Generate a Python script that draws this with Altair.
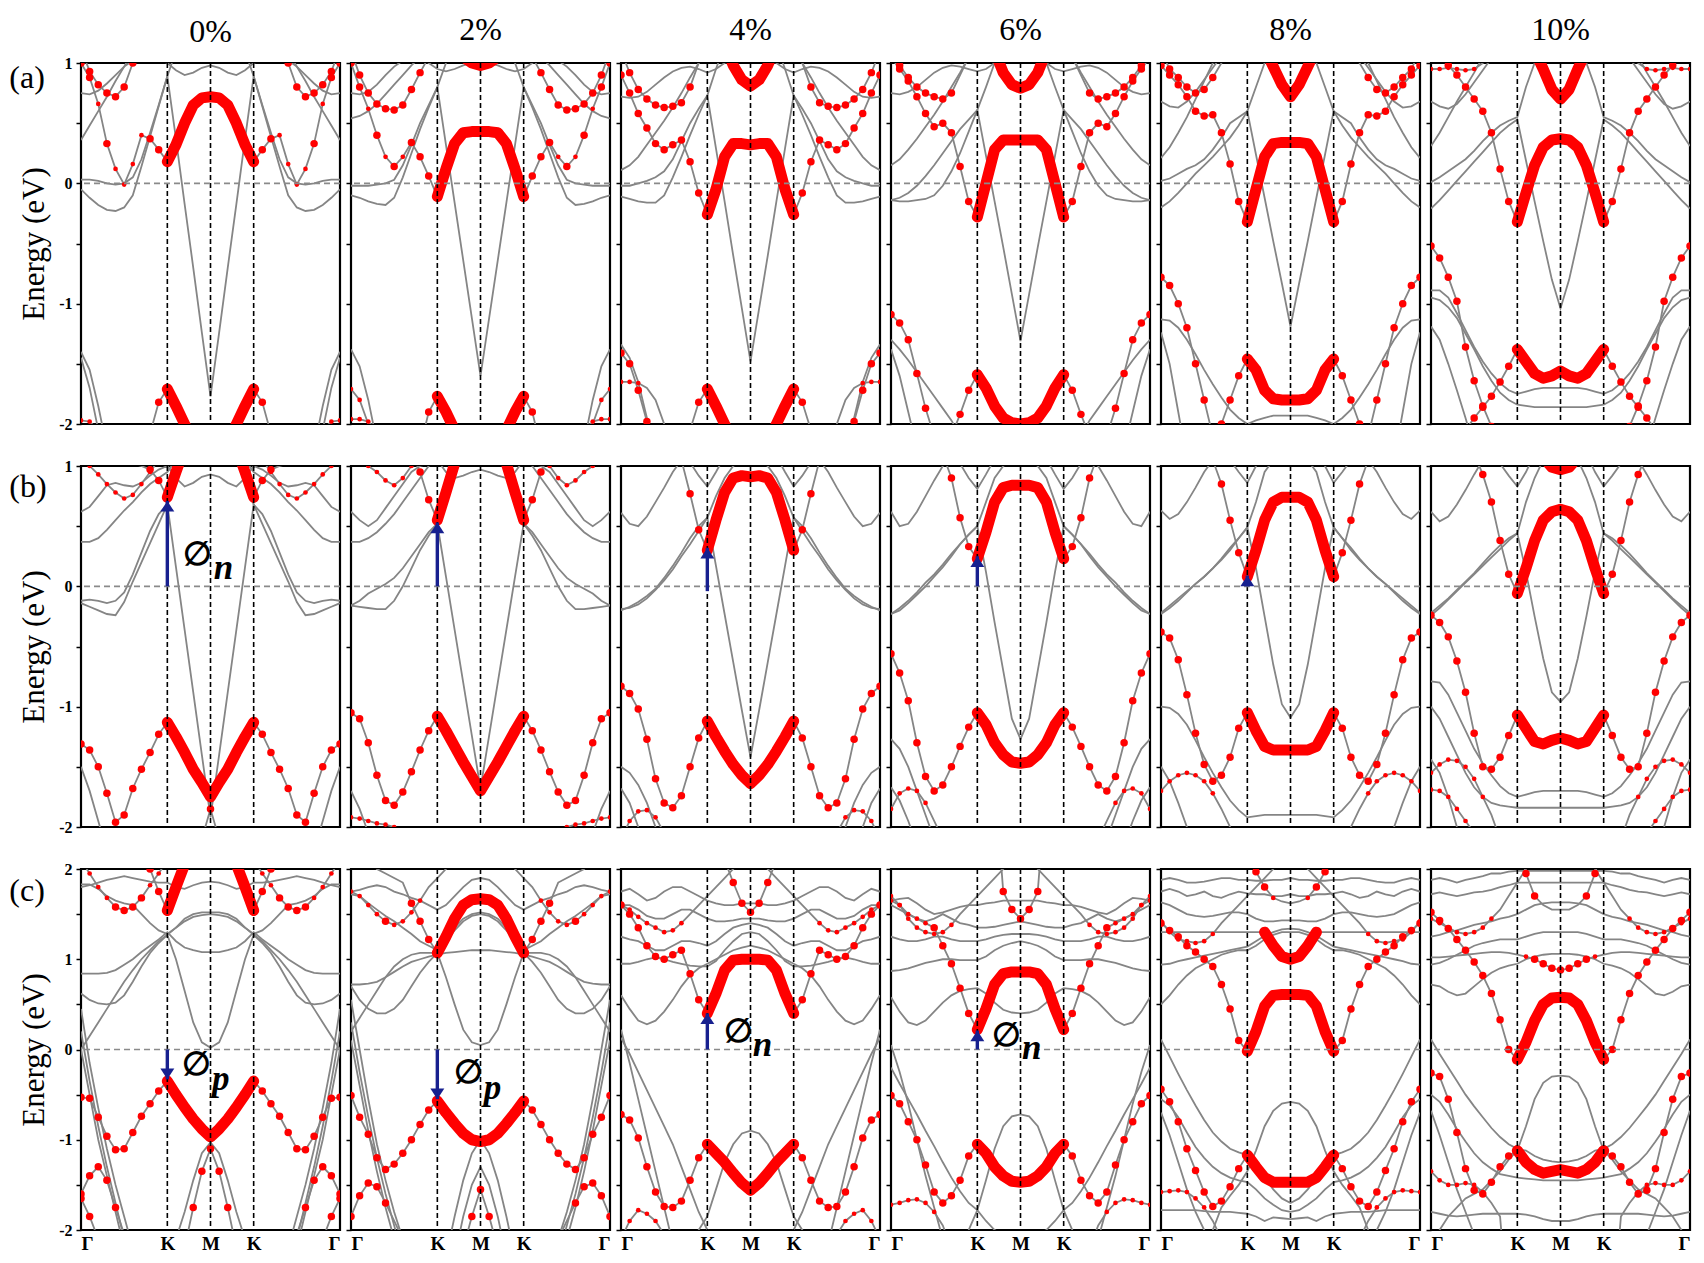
import altair as alt
import pandas as pd

# ---------------- shared labels / axes values ----------------
XH = [0.0, 0.1, 0.2, 0.3, 0.4, 0.5, 0.6, 0.7, 0.8, 0.9, 1.0, 1.1, 1.2, 1.3, 1.4, 1.5]  # Γ -> K -> M (half path)
K_LINES = [1.0, 1.5, 2.0]
X_TICKS = [0, 1, 1.5, 2, 3]
STRAINS = ["0%", "2%", "4%", "6%", "8%", "10%"]
ROW_TAGS = ["(a)", "(b)", "(c)"]
ROW_TAG_E = [0.875, 0.825, 1.76]
Y_DOMAINS = [[-2, 1], [-2, 1], [-2, 2]]
Y_TICKS = [[-2, -1.5, -1, -0.5, 0, 0.5, 1], [-2, -1.5, -1, -0.5, 0, 0.5, 1],
           [-2, -1.5, -1, -0.5, 0, 0.5, 1, 1.5, 2]]
G = "0000000000000000"
O = -3.0   # below the window
U = 3.0    # above the window

# band = (16 energies on XH, 16 weights: 0 none, 1 small dot, 2 dot, 3 thick)
# ---------------- row (a) ----------------
a00 = [
    ([1.0, 0.88, 0.66, 0.33, 0.12, -0.01, 0.16, 0.4, 0.37, 0.28, 0.18, 0.32, 0.5, 0.65, 0.71, 0.72], "2212111122333333"),
    ([1.12, 0.93, 0.82, 0.75, 0.72, 0.8, 1.0, 1.15, 1.3, 1.4, 1.5, 1.6, 1.6, 1.6, 1.6, 1.6], "2222222000000000"),
    ([-0.05, -0.12, -0.18, -0.22, -0.23, -0.2, -0.1, 0.14, 0.39, 0.64, 0.89, 0.37, -0.17, -0.7, -1.24, -1.77], G),
    ([0.03, 0.03, 0.02, 0.0, -0.01, 0.0, 0.05, 0.2, 0.42, 0.65, 0.89, 1.1, 1.3, 1.5, 1.6, 1.65], G),
    ([0.36, 0.48, 0.6, 0.72, 0.85, 0.97, 1.1, 1.2, 1.3, 1.3, 1.3, 1.3, 1.3, 1.3, 1.3, 1.3], G),
    ([0.75, 0.74, 0.77, 0.83, 0.9, 0.97, 1.02, 1.05, 1.05, 1.03, 1.0, 0.94, 0.9, 0.92, 0.96, 0.98], G),
    ([O, O, O, O, O, -2.8, -2.6, -2.3, -2.08, -1.82, -1.71, -1.85, -2.0, -2.15, -2.3, -2.4], "0000000022333333"),
    ([-1.4, -1.55, -1.85, -2.2, -2.5, -2.8] + [O] * 10, G),
    ([-1.45, -1.7, -2.05, -2.4, -2.8] + [O] * 11, G),
    ([-1.97, -1.98, -2.05, -2.2, -2.5] + [O] * 11, "1100000000000000"),
]
a02 = [
    ([1.0, 0.8, 0.62, 0.4, 0.22, 0.14, 0.22, 0.34, 0.22, 0.06, -0.11, 0.12, 0.33, 0.42, 0.43, 0.43], "2212121222333333"),
    ([1.1, 0.9, 0.75, 0.66, 0.62, 0.61, 0.65, 0.78, 0.92, 1.05, 1.15, 1.3, 1.4, 1.5, 1.5, 1.5], "2222222220000000"),
    ([1.8] * 10 + [1.45, 1.3, 1.15, 1.05, 1.0, 0.98], "0000000000000333"),
    ([-0.1, -0.12, -0.15, -0.17, -0.18, -0.12, 0.05, 0.25, 0.45, 0.63, 0.8, 0.32, -0.16, -0.64, -1.12, -1.6], G),
    ([-0.02, -0.02, -0.02, -0.01, 0.0, 0.03, 0.15, 0.32, 0.5, 0.65, 0.8, 1.0, 1.2, 1.35, 1.45, 1.5], G),
    ([0.54, 0.56, 0.6, 0.66, 0.74, 0.82, 0.9, 0.98, 1.05, 1.1, 1.15, 1.2, 1.2, 1.2, 1.2, 1.2], G),
    ([0.75, 0.74, 0.76, 0.82, 0.9, 0.97, 1.02, 1.05, 1.05, 1.0, 0.95, 0.93, 0.95, 0.98, 1.0, 1.02], G),
    ([O] * 6 + [-2.8, -2.5, -2.2, -1.9, -1.77, -1.9, -2.05, -2.2, -2.35, -2.4], "0000000002333333"),
    ([-1.38, -1.52, -1.8, -2.15, -2.5] + [O] * 11, G),
    ([-1.71, -1.8, -2.0, -2.3] + [O] * 12, "1100000000000000"),
    ([-1.96, -1.96, -1.98, -2.05] + [O] * 12, "1110000000000000"),
]
a04 = [
    ([0.9, 0.75, 0.58, 0.46, 0.33, 0.28, 0.32, 0.36, 0.18, -0.08, -0.26, -0.05, 0.22, 0.33, 0.33, 0.32], "2222222222333333"),
    ([1.1, 0.92, 0.78, 0.7, 0.65, 0.63, 0.64, 0.67, 0.8, 1.0, 1.2, 1.4, 1.5, 1.5, 1.5, 1.5], "2222222220000000"),
    ([1.8] * 10 + [1.7, 1.4, 1.15, 0.98, 0.86, 0.81], "0000000000003333"),
    ([-0.11, -0.13, -0.15, -0.16, -0.16, -0.1, 0.05, 0.22, 0.4, 0.57, 0.73, 0.29, -0.15, -0.6, -1.04, -1.48], G),
    ([-0.02, -0.02, 0.0, 0.02, 0.05, 0.1, 0.2, 0.35, 0.5, 0.62, 0.73, 0.95, 1.15, 1.3, 1.4, 1.45], G),
    ([0.11, 0.15, 0.22, 0.32, 0.42, 0.52, 0.63, 0.75, 0.88, 1.0, 1.1, 1.2, 1.3, 1.3, 1.3, 1.3], G),
    ([0.72, 0.71, 0.72, 0.76, 0.82, 0.88, 0.93, 0.96, 0.97, 0.95, 0.92, 0.95, 1.0, 1.05, 1.08, 1.1], G),
    ([O] * 5 + [-2.9, -2.6, -2.3, -2.05, -1.82, -1.71, -1.85, -2.0, -2.15, -2.3, -2.4], "0000000022333333"),
    ([-1.34, -1.45, -1.65, -1.95, -2.25, -2.6] + [O] * 10, G),
    ([-1.41, -1.5, -1.72, -1.98, -2.3, -2.6] + [O] * 10, "2222000000000000"),
    ([-1.65, -1.65, -1.66, -1.7, -1.8, -2.0] + [O] * 10, "1110000000000000"),
]
a06 = [
    ([1.05, 0.95, 0.85, 0.72, 0.58, 0.47, 0.5, 0.42, 0.14, -0.15, -0.28, 0.0, 0.28, 0.36, 0.36, 0.36], "2222222222333333"),
    ([1.1, 0.98, 0.88, 0.8, 0.75, 0.72, 0.7, 0.75, 0.9, 1.05, 1.2, 1.3, 1.3, 1.3, 1.3, 1.3], "2222222200000000"),
    ([1.8] * 10 + [1.6, 1.35, 1.1, 0.92, 0.82, 0.79], "0000000000003333"),
    ([-0.14, -0.12, -0.08, -0.02, 0.06, 0.15, 0.25, 0.35, 0.45, 0.53, 0.61, 0.23, -0.15, -0.53, -0.92, -1.31], G),
    ([-0.14, -0.15, -0.15, -0.14, -0.13, -0.1, -0.02, 0.1, 0.25, 0.43, 0.61, 0.8, 1.0, 1.15, 1.2, 1.2], G),
    ([0.15, 0.2, 0.28, 0.37, 0.47, 0.57, 0.68, 0.8, 0.92, 1.05, 1.15, 1.25, 1.3, 1.3, 1.3, 1.3], G),
    ([0.75, 0.74, 0.76, 0.8, 0.86, 0.92, 0.96, 0.98, 0.97, 0.95, 0.93, 0.95, 1.0, 1.05, 1.1, 1.1], G),
    ([O] * 4 + [-2.8, -2.5, -2.3, -2.1, -1.92, -1.72, -1.59, -1.7, -1.85, -1.95, -1.99, -2.0], "0000000022333333"),
    ([-1.09, -1.16, -1.3, -1.58, -1.87, -2.1, -2.4, -2.7] + [O] * 8, "2222222000000000"),
    ([-1.38, -1.6, -1.9, -2.2, -2.5, -2.8] + [O] * 10, G),
    ([-1.3, -1.38, -1.47, -1.57, -1.67, -1.77, -1.87, -1.97, -2.1, -2.2, -2.3, -2.4, -2.5, -2.6, -2.7, -2.8], G),
]
a08 = [
    ([0.98, 0.9, 0.82, 0.72, 0.6, 0.56, 0.57, 0.42, 0.16, -0.15, -0.32, -0.05, 0.22, 0.33, 0.34, 0.34], "2222222222333333"),
    ([1.1, 0.95, 0.88, 0.8, 0.75, 0.78, 0.88, 1.0, 1.1, 1.2, 1.3, 1.3, 1.3, 1.3, 1.3, 1.3], "2222222000000000"),
    ([1.8] * 10 + [1.6, 1.3, 1.12, 0.97, 0.82, 0.72], "0000000000003333"),
    ([-0.2, -0.15, -0.08, 0.0, 0.08, 0.15, 0.22, 0.3, 0.38, 0.48, 0.6, 0.24, -0.12, -0.48, -0.83, -1.19], G),
    ([0.02, 0.04, 0.08, 0.12, 0.15, 0.2, 0.28, 0.38, 0.5, 0.55, 0.6, 0.8, 1.0, 1.1, 1.15, 1.15], G),
    ([0.21, 0.3, 0.42, 0.55, 0.7, 0.85, 1.0, 1.15, 1.3, 1.3, 1.3, 1.3, 1.3, 1.3, 1.3, 1.3], G),
    ([0.68, 0.64, 0.63, 0.68, 0.76, 0.86, 0.96, 1.06, 1.15, 1.2, 1.2, 1.2, 1.2, 1.2, 1.2, 1.2], G),
    ([O] * 4 + [-2.8, -2.5, -2.2, -2.0, -1.8, -1.6, -1.46, -1.55, -1.72, -1.79, -1.8, -1.8], "0000000222333333"),
    ([-0.78, -0.85, -1.0, -1.2, -1.5, -1.8, -2.1, -2.4, -2.7] + [O] * 7, "2222222000000000"),
    ([-1.13, -1.14, -1.2, -1.3, -1.42, -1.55, -1.67, -1.78, -1.88, -1.95, -2.0, -1.97, -1.95, -1.93, -1.93, -1.93], G),
    ([-1.24, -1.5, -1.9, -2.3, -2.7] + [O] * 11, G),
]
a10 = [
    ([1.1, 1.05, 0.98, 0.9, 0.8, 0.7, 0.6, 0.42, 0.12, -0.15, -0.32, -0.08, 0.15, 0.3, 0.36, 0.37], "1122222222333333"),
    ([1.8] * 10 + [1.6, 1.3, 1.1, 0.95, 0.78, 0.7], "0000000000003333"),
    ([0.95, 0.95, 0.96, 0.95, 0.94, 0.95, 1.0, 1.1, 1.2, 1.3, 1.4, 1.5, 1.5, 1.5, 1.5, 1.5], "1111110000000000"),
    ([-0.21, -0.14, -0.06, 0.02, 0.1, 0.18, 0.26, 0.34, 0.42, 0.48, 0.53, 0.19, -0.15, -0.48, -0.8, -1.04], G),
    ([0.01, 0.05, 0.1, 0.15, 0.2, 0.27, 0.35, 0.42, 0.48, 0.52, 0.55, 0.8, 1.0, 1.15, 1.2, 1.2], G),
    ([0.31, 0.42, 0.55, 0.68, 0.8, 0.92, 1.05, 1.15, 1.2, 1.2, 1.2, 1.2, 1.2, 1.2, 1.2, 1.2], G),
    ([0.68, 0.64, 0.62, 0.66, 0.74, 0.84, 0.94, 1.04, 1.12, 1.18, 1.2, 1.2, 1.2, 1.2, 1.2, 1.2], G),
    ([-2.4, -2.3, -2.2, -2.1, -2.05, -1.95, -1.86, -1.77, -1.65, -1.52, -1.38, -1.48, -1.58, -1.62, -1.6, -1.56], "0000022222333333"),
    ([-0.52, -0.62, -0.78, -0.98, -1.36, -1.64, -1.85, -2.02, -2.2, -2.4] + [O] * 6, "2222222200000000"),
    ([-0.89, -0.89, -0.95, -1.08, -1.22, -1.36, -1.48, -1.58, -1.66, -1.72, -1.75, -1.73, -1.71, -1.7, -1.7, -1.7], G),
    ([-0.95, -0.97, -1.03, -1.12, -1.25, -1.38, -1.52, -1.64, -1.74, -1.8, -1.84, -1.85, -1.86, -1.86, -1.86, -1.86], G),
    ([-1.19, -1.3, -1.5, -1.72, -1.95, -2.2] + [O] * 10, G),
]

# ---------------- row (b) ----------------
b00 = [
    ([1.3, 1.25, 1.2, 1.15, 1.1, 1.05, 1.02, 1.0, 0.97, 0.88, 0.74, 0.95, 1.15, 1.3, 1.4, 1.45], "0000000022333000"),
    ([1.1, 1.0, 0.93, 0.85, 0.78, 0.73, 0.76, 0.85, 0.95, 1.05, 1.15, 1.3, 1.4, 1.4, 1.4, 1.4], "1111111110000000"),
    ([-0.14, -0.17, -0.2, -0.23, -0.24, -0.13, 0.04, 0.2, 0.36, 0.52, 0.68, 0.16, -0.36, -0.88, -1.4, -1.92], G),
    ([-0.12, -0.11, -0.12, -0.14, -0.12, -0.05, 0.1, 0.28, 0.46, 0.6, 0.68, 0.9, 1.1, 1.3, 1.4, 1.45], G),
    ([0.37, 0.37, 0.4, 0.47, 0.55, 0.63, 0.7, 0.78, 0.85, 0.9, 0.95, 1.05, 1.15, 1.2, 1.2, 1.2], G),
    ([0.62, 0.66, 0.75, 0.84, 0.86, 0.84, 0.83, 0.86, 0.92, 0.97, 1.0, 0.9, 0.83, 0.86, 0.91, 0.93], G),
    ([-1.31, -1.36, -1.5, -1.72, -1.96, -1.9, -1.68, -1.52, -1.38, -1.23, -1.13, -1.25, -1.38, -1.52, -1.63, -1.75], "2222222222333333"),
    ([-1.5, -1.7, -1.95, -2.2, -2.5] + [O] * 11, G),
    ([O] * 13 + [-2.4, -2.1, -1.85], "0000000000000222"),
]
b02 = [
    ([1.4, 1.35, 1.3, 1.25, 1.2, 1.15, 1.12, 1.1, 0.95, 0.72, 0.55, 0.78, 1.02, 1.2, 1.3, 1.35], "0000000022333000"),
    ([1.1, 1.05, 1.0, 0.95, 0.88, 0.84, 0.9, 1.0, 1.1, 1.2, 1.3, 1.4, 1.4, 1.4, 1.4, 1.4], "1111111100000000"),
    ([-0.16, -0.17, -0.18, -0.19, -0.19, -0.12, 0.0, 0.15, 0.3, 0.42, 0.52, 0.08, -0.36, -0.8, -1.24, -1.68], G),
    ([-0.16, -0.12, -0.06, -0.02, 0.02, 0.07, 0.15, 0.25, 0.35, 0.45, 0.52, 0.75, 0.95, 1.1, 1.2, 1.25], G),
    ([0.37, 0.37, 0.4, 0.45, 0.52, 0.6, 0.7, 0.8, 0.9, 1.0, 1.1, 1.2, 1.2, 1.2, 1.2, 1.2], G),
    ([0.62, 0.55, 0.5, 0.55, 0.65, 0.75, 0.85, 0.95, 1.0, 1.02, 1.05, 0.95, 0.9, 0.92, 0.95, 0.97], G),
    ([-1.05, -1.1, -1.3, -1.57, -1.78, -1.82, -1.71, -1.54, -1.36, -1.2, -1.08, -1.2, -1.33, -1.46, -1.58, -1.7], "2222222222333333"),
    ([-1.7, -1.85, -2.05, -2.3] + [O] * 12, G),
    ([-1.92, -1.93, -1.95, -1.97, -1.98, -2.0, -2.2] + [O] * 9, "1111110000000000"),
]
b04 = [
    ([1.5, 1.45, 1.4, 1.35, 1.3, 1.25, 1.15, 1.05, 0.77, 0.47, 0.3, 0.55, 0.78, 0.9, 0.92, 0.91], "0000000222333333"),
    ([-0.19, -0.18, -0.15, -0.1, -0.03, 0.05, 0.14, 0.25, 0.35, 0.46, 0.57, 0.17, -0.23, -0.63, -1.03, -1.42], G),
    ([-0.2, -0.17, -0.13, -0.08, -0.02, 0.07, 0.17, 0.28, 0.4, 0.5, 0.57, 0.75, 0.9, 1.0, 1.05, 1.05], G),
    ([0.61, 0.52, 0.5, 0.58, 0.7, 0.82, 0.95, 1.05, 1.1, 1.1, 1.1, 1.1, 1.1, 1.1, 1.1, 1.1], G),
    ([1.3, 1.3, 1.3, 1.3, 1.3, 1.3, 1.25, 1.15, 1.03, 0.92, 0.83, 0.95, 1.08, 1.2, 1.3, 1.3], G),
    ([-0.83, -0.89, -1.02, -1.27, -1.6, -1.8, -1.84, -1.74, -1.5, -1.26, -1.12, -1.25, -1.37, -1.48, -1.57, -1.64], "2222222222333333"),
    ([-1.5, -1.55, -1.65, -1.8, -2.0, -2.2] + [O] * 10, G),
    ([-1.68, -1.8, -2.0, -2.2] + [O] * 12, G),
    ([-2.1, -1.95, -1.87, -1.86, -1.92, -2.05, -2.2] + [O] * 9, "1111110000000000"),
]
b06 = [
    ([1.5, 1.45, 1.4, 1.35, 1.3, 1.2, 1.1, 0.9, 0.57, 0.33, 0.23, 0.45, 0.7, 0.82, 0.84, 0.84], "0000000222333333"),
    ([-0.23, -0.18, -0.12, -0.05, 0.03, 0.1, 0.18, 0.27, 0.35, 0.43, 0.5, 0.12, -0.3, -0.7, -1.1, -1.27], G),
    ([-0.23, -0.2, -0.14, -0.07, 0.0, 0.08, 0.16, 0.25, 0.35, 0.43, 0.5, 0.7, 0.9, 1.0, 1.05, 1.05], G),
    ([0.62, 0.5, 0.52, 0.62, 0.75, 0.88, 1.0, 1.1, 1.1, 1.1, 1.1, 1.1, 1.1, 1.1, 1.1, 1.1], G),
    ([1.3, 1.3, 1.3, 1.3, 1.3, 1.3, 1.25, 1.15, 1.02, 0.9, 0.81, 0.93, 1.06, 1.2, 1.3, 1.3], G),
    ([-0.56, -0.72, -0.95, -1.3, -1.58, -1.7, -1.65, -1.5, -1.33, -1.17, -1.05, -1.15, -1.3, -1.4, -1.46, -1.47], "2222222222333333"),
    ([-1.85, -1.72, -1.68, -1.7, -1.8, -1.95, -2.1] + [O] * 9, "1111100000000000"),
    ([-1.27, -1.35, -1.5, -1.7, -1.9, -2.1] + [O] * 10, G),
    ([-1.67, -1.78, -1.95, -2.15] + [O] * 12, G),
]
b08 = [
    ([1.5, 1.45, 1.4, 1.3, 1.2, 1.12, 1.05, 0.85, 0.55, 0.28, 0.08, 0.3, 0.55, 0.7, 0.74, 0.74], "0000000222333333"),
    ([-0.23, -0.18, -0.12, -0.05, 0.02, 0.08, 0.15, 0.23, 0.32, 0.4, 0.49, 0.15, -0.25, -0.65, -0.98, -1.09], G),
    ([-0.22, -0.16, -0.1, -0.04, 0.02, 0.08, 0.15, 0.22, 0.3, 0.4, 0.49, 0.7, 0.95, 1.05, 1.1, 1.1], G),
    ([0.63, 0.56, 0.6, 0.7, 0.82, 0.95, 1.05, 1.15, 1.2, 1.2, 1.2, 1.2, 1.2, 1.2, 1.2, 1.2], G),
    ([1.3, 1.3, 1.3, 1.3, 1.3, 1.3, 1.3, 1.2, 1.05, 0.95, 0.86, 1.0, 1.15, 1.25, 1.3, 1.3], G),
    ([-0.38, -0.43, -0.61, -0.9, -1.22, -1.48, -1.62, -1.57, -1.42, -1.18, -1.05, -1.2, -1.33, -1.36, -1.36, -1.36], "2222222222333333"),
    ([-1.7, -1.62, -1.57, -1.55, -1.57, -1.62, -1.72, -1.85, -2.0] + [O] * 7, "1111111000000000"),
    ([-1.0, -1.01, -1.06, -1.15, -1.28, -1.42, -1.55, -1.67, -1.78, -1.86, -1.92, -1.91, -1.9, -1.9, -1.9, -1.9], G),
    ([-1.5, -1.62, -1.8, -2.0, -2.2] + [O] * 11, G),
]
b10 = [
    ([1.5, 1.45, 1.4, 1.3, 1.2, 1.1, 0.93, 0.7, 0.38, 0.1, -0.06, 0.15, 0.38, 0.55, 0.62, 0.64], "0000022222333333"),
    ([1.8] * 11 + [1.6, 1.25, 1.07, 0.99, 0.97], "0000000000000333"),
    ([-0.24, -0.18, -0.11, -0.04, 0.03, 0.1, 0.17, 0.24, 0.31, 0.38, 0.44, 0.12, -0.25, -0.6, -0.88, -0.96], G),
    ([-0.22, -0.16, -0.1, -0.03, 0.04, 0.11, 0.19, 0.27, 0.34, 0.4, 0.44, 0.7, 0.9, 1.05, 1.1, 1.1], G),
    ([0.62, 0.54, 0.58, 0.68, 0.8, 0.93, 1.05, 1.15, 1.2, 1.2, 1.2, 1.2, 1.2, 1.2, 1.2, 1.2], G),
    ([1.3, 1.3, 1.3, 1.3, 1.3, 1.3, 1.25, 1.15, 1.02, 0.92, 0.83, 0.95, 1.1, 1.2, 1.3, 1.3], G),
    ([-0.24, -0.3, -0.42, -0.62, -0.88, -1.22, -1.5, -1.52, -1.42, -1.24, -1.07, -1.18, -1.29, -1.31, -1.28, -1.26], "2222222222333333"),
    ([-1.55, -1.48, -1.44, -1.45, -1.5, -1.6, -1.75, -1.9, -2.1] + [O] * 7, "1111111000000000"),
    ([-1.69, -1.7, -1.75, -1.85, -1.95, -2.05, -2.2] + [O] * 9, "1111100000000000"),
    ([-0.79, -0.8, -0.9, -1.05, -1.2, -1.35, -1.47, -1.57, -1.66, -1.72, -1.75, -1.73, -1.71, -1.7, -1.7, -1.7], G),
    ([-1.0, -1.1, -1.25, -1.4, -1.55, -1.67, -1.75, -1.8, -1.82, -1.83, -1.84, -1.84, -1.84, -1.84, -1.84, -1.84], G),
    ([-1.44, -1.55, -1.75, -2.0, -2.2] + [O] * 11, G),
]

# ---------------- row (c) ----------------
c00 = [
    ([-0.53, -0.54, -0.75, -0.96, -1.11, -1.1, -0.92, -0.74, -0.6, -0.46, -0.35, -0.5, -0.64, -0.77, -0.88, -0.97], "2222222222333333"),
    ([U] * 7 + [2.3, 2.0, 1.75, 1.54, 1.8, 2.05, 2.25, 2.4, 2.45], "0000000022333000"),
    ([2.1, 1.95, 1.8, 1.68, 1.58, 1.54, 1.58, 1.68, 1.82, 1.95, 2.1, 2.3, 2.5, 2.5, 2.5, 2.5], "1111222211000000"),
    ([0.62, 0.55, 0.51, 0.5, 0.52, 0.6, 0.75, 0.92, 1.07, 1.18, 1.27, 1.0, 0.65, 0.3, 0.08, 0.02], G),
    ([0.84, 0.84, 0.84, 0.85, 0.88, 0.94, 1.0, 1.08, 1.15, 1.22, 1.3, 1.2, 1.13, 1.1, 1.08, 1.08], G),
    ([0.0, 0.15, 0.3, 0.45, 0.6, 0.75, 0.88, 1.0, 1.1, 1.2, 1.27, 1.35, 1.42, 1.47, 1.49, 1.5], G),
    ([1.83, 1.83, 1.78, 1.7, 1.65, 1.62, 1.6, 1.5, 1.4, 1.32, 1.28, 1.35, 1.45, 1.5, 1.52, 1.52], G),
    ([1.8, 1.82, 1.85, 1.88, 1.9, 1.92, 1.9, 1.88, 1.86, 1.85, 1.85, 1.8, 1.78, 1.82, 1.85, 1.86], G),
    ([0.45, -0.15, -0.65, -1.1, -1.5, -1.85, -2.2, -2.5] + [O] * 8, G),
    ([0.2, -0.35, -0.85, -1.3, -1.7, -2.1, -2.5] + [O] * 9, G),
    ([0.0, -0.5, -1.0, -1.4, -1.8, -2.2] + [O] * 10, G),
    ([O] * 10 + [-2.3, -2.1, -1.8, -1.45, -1.15, -1.03], G),
    ([O] * 11 + [-2.6, -2.2, -1.75, -1.35, -1.1], "0000000000022222"),
    ([-1.6, -1.4, -1.3, -1.45, -1.75, -2.05, -2.4] + [O] * 9, "2222200000000000"),
    ([-1.65, -1.85, -2.1] + [O] * 13, "2200000000000000"),
]
c02 = [
    ([-0.51, -0.75, -0.94, -1.2, -1.33, -1.27, -1.15, -1.0, -0.83, -0.67, -0.57, -0.7, -0.82, -0.93, -1.0, -1.02], "2222222222333333"),
    ([2.3, 2.2, 2.1, 2.0, 1.95, 1.9, 1.85, 1.62, 1.42, 1.22, 1.07, 1.25, 1.45, 1.6, 1.66, 1.67], "0000000222333333"),
    ([1.75, 1.7, 1.6, 1.5, 1.42, 1.38, 1.42, 1.52, 1.65, 1.8, 1.9, 2.0, 2.1, 2.1, 2.1, 2.1], "1111211110000000"),
    ([0.7, 0.55, 0.45, 0.4, 0.4, 0.45, 0.55, 0.7, 0.85, 0.97, 1.07, 0.8, 0.5, 0.22, 0.08, 0.05], G),
    ([0.72, 0.72, 0.73, 0.75, 0.8, 0.86, 0.92, 0.97, 1.0, 1.03, 1.05, 1.07, 1.08, 1.09, 1.1, 1.1], G),
    ([1.72, 1.7, 1.62, 1.55, 1.48, 1.42, 1.35, 1.28, 1.2, 1.15, 1.1, 1.2, 1.32, 1.42, 1.48, 1.5], G),
    ([1.75, 1.77, 1.8, 1.82, 1.8, 1.75, 1.72, 1.68, 1.65, 1.6, 1.55, 1.6, 1.7, 1.8, 1.88, 1.9], G),
    ([0.2, 0.35, 0.5, 0.65, 0.8, 0.92, 1.0, 1.05, 1.07, 1.07, 1.07, 1.2, 1.35, 1.45, 1.5, 1.52], G),
    ([0.55, 0.0, -0.55, -1.05, -1.45, -1.8, -2.1, -2.4] + [O] * 8, G),
    ([0.3, -0.25, -0.75, -1.2, -1.6, -1.95, -2.3] + [O] * 9, G),
    ([0.1, -0.4, -0.9, -1.35, -1.75, -2.1, -2.5] + [O] * 9, G),
    ([O] * 11 + [-2.3, -1.85, -1.45, -1.15, -1.0], G),
    ([O] * 12 + [-2.3, -1.85, -1.5, -1.3], G),
    ([O] * 12 + [-2.6, -2.2, -1.85, -1.55], "0000000000000222"),
    ([-1.85, -1.62, -1.48, -1.52, -1.7, -1.9, -2.1] + [O] * 9, "2222200000000000"),
]
c04 = [
    ([1.6, 1.5, 1.35, 1.15, 1.03, 1.0, 1.05, 1.1, 0.84, 0.55, 0.4, 0.62, 0.88, 0.99, 1.0, 1.0], "2222222222333333"),
    ([1.6, 1.55, 1.47, 1.4, 1.35, 1.3, 1.32, 1.4, 1.5, 1.6, 1.7, 1.8, 1.9, 2.0, 2.1, 2.1], "1111111100000000"),
    ([U] * 12 + [2.1, 1.85, 1.62, 1.52], "0000000000002222"),
    ([-0.72, -0.78, -0.98, -1.3, -1.58, -1.74, -1.75, -1.68, -1.45, -1.2, -1.05, -1.15, -1.25, -1.37, -1.48, -1.56], "2222222222333333"),
    ([-2.1, -1.9, -1.78, -1.82, -1.9, -2.05, -2.3] + [O] * 9, "1111110000000000"),
    ([O] * 8 + [-2.2, -2.0, -1.85, -1.55, -1.25, -1.05, -0.93, -0.9], G),
    ([0.22, -0.15, -0.55, -0.95, -1.35, -1.75, -2.15, -2.5] + [O] * 8, G),
    ([0.13, -0.05, -0.25, -0.45, -0.65, -0.85, -1.05, -1.3, -1.55, -1.8, -2.0, -2.2, -2.4, -2.5, -2.6, -2.6], G),
    ([0.6, 0.45, 0.32, 0.28, 0.32, 0.42, 0.55, 0.7, 0.82, 0.9, 0.95, 1.0, 1.05, 1.1, 1.13, 1.15], G),
    ([0.95, 0.95, 0.97, 1.0, 1.02, 1.0, 0.97, 0.95, 0.93, 0.92, 0.92, 0.98, 1.1, 1.2, 1.28, 1.3], G),
    ([1.75, 1.78, 1.72, 1.65, 1.68, 1.75, 1.8, 1.8, 1.75, 1.7, 1.65, 1.62, 1.6, 1.6, 1.62, 1.62], G),
    ([1.6, 1.6, 1.55, 1.48, 1.45, 1.45, 1.5, 1.55, 1.55, 1.5, 1.45, 1.42, 1.42, 1.43, 1.45, 1.45], G),
    ([1.25, 1.22, 1.2, 1.15, 1.1, 1.1, 1.15, 1.2, 1.2, 1.18, 1.15, 1.2, 1.28, 1.35, 1.38, 1.4], G),
]
c06 = [
    ([1.7, 1.6, 1.5, 1.45, 1.4, 1.35, 1.15, 0.95, 0.68, 0.4, 0.22, 0.45, 0.72, 0.84, 0.86, 0.86], "1111122222333333"),
    ([1.65, 1.6, 1.45, 1.35, 1.3, 1.28, 1.3, 1.38, 1.5, 1.6, 1.7, 1.8, 1.9, 2.0, 2.1, 2.1], "1111111100000000"),
    ([U] * 13 + [1.75, 1.55, 1.45], "0000000000000222"),
    ([-0.51, -0.6, -0.8, -1.0, -1.28, -1.58, -1.7, -1.62, -1.45, -1.18, -1.05, -1.15, -1.3, -1.4, -1.46, -1.47], "2222222222333333"),
    ([-1.72, -1.7, -1.67, -1.66, -1.7, -1.8, -1.95, -2.2] + [O] * 8, "1111110000000000"),
    ([O] * 9 + [-2.0, -1.78, -1.45, -1.1, -0.85, -0.74, -0.72], G),
    ([-0.2, -0.38, -0.55, -0.72, -0.9, -1.07, -1.25, -1.42, -1.57, -1.7, -1.78, -1.9, -2.0, -2.05, -2.1, -2.1], G),
    ([0.05, -0.25, -0.6, -1.0, -1.4, -1.75, -2.1, -2.5] + [O] * 8, G),
    ([0.58, 0.42, 0.3, 0.27, 0.32, 0.42, 0.52, 0.6, 0.65, 0.67, 0.68, 0.62, 0.52, 0.44, 0.41, 0.4], G),
    ([0.87, 0.88, 0.9, 0.93, 0.96, 0.98, 1.0, 1.0, 0.99, 0.99, 0.99, 1.03, 1.1, 1.15, 1.18, 1.2], G),
    ([1.65, 1.67, 1.68, 1.62, 1.55, 1.5, 1.52, 1.55, 1.58, 1.6, 1.6, 1.62, 1.63, 1.65, 1.65, 1.65], G),
    ([1.6, 1.55, 1.5, 1.45, 1.42, 1.45, 1.5, 1.45, 1.4, 1.38, 1.35, 1.35, 1.36, 1.38, 1.4, 1.42], G),
    ([1.25, 1.22, 1.2, 1.2, 1.22, 1.25, 1.25, 1.22, 1.2, 1.2, 1.2, 1.22, 1.25, 1.27, 1.28, 1.28], G),
]
c08 = [
    ([1.4, 1.32, 1.25, 1.15, 1.08, 1.0, 0.92, 0.72, 0.45, 0.1, -0.02, 0.2, 0.48, 0.6, 0.61, 0.61], "2222222222333333"),
    ([1.3] * 12 + [1.3, 1.15, 1.03, 1.0], "0000000000003333"),
    ([-0.44, -0.58, -0.8, -1.1, -1.34, -1.58, -1.74, -1.68, -1.52, -1.32, -1.17, -1.3, -1.42, -1.47, -1.47, -1.47], "2222222222333333"),
    ([-1.58, -1.57, -1.56, -1.58, -1.65, -1.75, -1.9, -2.1] + [O] * 8, "1111110000000000"),
    ([1.42, 1.3, 1.22, 1.2, 1.18, 1.2, 1.28, 1.4, 1.5, 1.6, 1.7, 1.8, 1.9, 2.0, 2.1, 2.1], "1111111000000000"),
    ([U] * 10 + [2.2, 1.97, 1.8, 1.68, 1.64, 1.62], "0000000000022100"),
    ([O] * 5 + [-2.3, -2.0, -1.75, -1.62, -1.5, -1.35, -1.12, -0.85, -0.68, -0.6, -0.58], G),
    ([0.11, -0.08, -0.27, -0.45, -0.62, -0.78, -0.92, -1.02, -1.1, -1.14, -1.17, -1.3, -1.42, -1.55, -1.65, -1.7], G),
    ([-0.55, -0.62, -0.75, -0.92, -1.08, -1.2, -1.3, -1.37, -1.42, -1.45, -1.47, -1.55, -1.65, -1.72, -1.78, -1.8], G),
    ([-0.7, -0.95, -1.25, -1.55, -1.8, -2.0, -2.2] + [O] * 9, G),
    ([-1.78, -1.78, -1.78, -1.78, -1.78, -1.79, -1.8, -1.8, -1.8, -1.81, -1.82, -1.85, -1.9, -1.86, -1.87, -1.88], G),
    ([0.5, 0.6, 0.72, 0.82, 0.9, 0.95, 1.0, 1.05, 1.08, 1.1, 1.1, 1.15, 1.22, 1.27, 1.3, 1.3], G),
    ([0.94, 0.95, 0.98, 1.0, 1.02, 1.04, 1.06, 1.08, 1.1, 1.12, 1.14, 1.2, 1.26, 1.3, 1.33, 1.34], G),
    ([1.63, 1.6, 1.55, 1.5, 1.48, 1.47, 1.48, 1.5, 1.52, 1.52, 1.5, 1.45, 1.42, 1.42, 1.43, 1.43], G),
    ([1.75, 1.78, 1.75, 1.7, 1.72, 1.75, 1.7, 1.68, 1.72, 1.75, 1.73, 1.72, 1.72, 1.7, 1.7, 1.72], G),
    ([1.88, 1.9, 1.88, 1.85, 1.85, 1.86, 1.88, 1.9, 1.9, 1.88, 1.88, 1.87, 1.87, 1.88, 1.88, 1.9], G),
]
c10 = [
    ([1.52, 1.43, 1.34, 1.22, 1.1, 0.97, 0.82, 0.62, 0.33, 0.0, -0.11, 0.08, 0.32, 0.5, 0.57, 0.58], "2222222222333333"),
    ([1.02, 1.02, 1.03, 1.04, 1.05, 1.06, 1.07, 1.08, 1.08, 1.07, 1.05, 1.03, 1.0, 0.95, 0.9, 0.88], "0000000000012222"),
    ([-0.26, -0.3, -0.55, -0.92, -1.32, -1.56, -1.6, -1.47, -1.3, -1.18, -1.12, -1.25, -1.33, -1.37, -1.35, -1.33], "2222222222333333"),
    ([-1.35, -1.45, -1.5, -1.5, -1.48, -1.5, -1.58, -1.7, -1.85] + [O] * 7, "1111111000000000"),
    ([1.45, 1.4, 1.35, 1.3, 1.28, 1.3, 1.35, 1.45, 1.55, 1.7, 1.85, 2.0, 2.1, 2.1, 2.1, 2.1], "1111111100000000"),
    ([U] * 10 + [2.3, 1.95, 1.7, 1.6, 1.55, 1.55], "0000000000022000"),
    ([-2.3, -2.0, -1.85, -1.75, -1.65, -1.6, -1.55, -1.45, -1.35, -1.22, -1.12, -0.85, -0.55, -0.37, -0.3, -0.29], G),
    ([0.11, -0.05, -0.2, -0.35, -0.5, -0.63, -0.75, -0.87, -0.97, -1.05, -1.1, -1.12, -1.18, -1.22, -1.24, -1.25], G),
    ([-0.5, -0.58, -0.72, -0.88, -1.02, -1.15, -1.25, -1.32, -1.38, -1.4, -1.42, -1.43, -1.44, -1.45, -1.45, -1.45], G),
    ([-0.68, -0.95, -1.25, -1.55, -1.8, -2.05, -2.3] + [O] * 9, G),
    ([-1.8, -1.82, -1.84, -1.85, -1.84, -1.83, -1.82, -1.82, -1.82, -1.82, -1.82, -1.83, -1.85, -1.88, -1.9, -1.9], G),
    ([0.72, 0.7, 0.64, 0.6, 0.62, 0.7, 0.78, 0.85, 0.9, 0.93, 0.95, 1.0, 1.03, 1.05, 1.06, 1.06], G),
    ([0.94, 0.96, 1.0, 1.05, 1.1, 1.15, 1.18, 1.2, 1.22, 1.22, 1.22, 1.25, 1.28, 1.3, 1.3, 1.3], G),
    ([1.25, 1.27, 1.3, 1.32, 1.35, 1.38, 1.4, 1.42, 1.45, 1.47, 1.5, 1.55, 1.6, 1.62, 1.63, 1.63], G),
    ([1.72, 1.74, 1.72, 1.7, 1.72, 1.74, 1.75, 1.77, 1.8, 1.82, 1.85, 1.85, 1.85, 1.85, 1.85, 1.85], G),
    ([1.88, 1.9, 1.88, 1.85, 1.88, 1.9, 1.92, 1.95, 1.95, 1.97, 1.98, 1.98, 1.98, 1.98, 1.98, 1.98], G),
]

PANELS = [[a00, a02, a04, a06, a08, a10],
          [b00, b02, b04, b06, b08, b10],
          [c00, c02, c04, c06, c08, c10]]

# arrows at K: (row, col) -> (start energy, tip energy)
ARROWS = {(1, 0): (0.0, 0.71), (1, 1): (0.0, 0.53), (1, 2): (-0.04, 0.32), (1, 3): (0.0, 0.25),
          (1, 4): (0.0, 0.09), (2, 0): (0.0, -0.33), (2, 1): (0.0, -0.55), (2, 2): (0.0, 0.4),
          (2, 3): (0.0, 0.21)}
# labels: (row, col) -> (subscript, x_sym, E_sym, x_sub, E_sub)
LABELS = {(1, 0): ("n", 1.35, 0.26, 1.65, 0.15), (2, 0): ("p", 1.34, -0.17, 1.62, -0.33),
          (2, 1): ("p", 1.36, -0.26, 1.64, -0.43), (2, 2): ("n", 1.36, 0.19, 1.64, 0.05),
          (2, 3): ("n", 1.34, 0.15, 1.63, 0.02)}

SERIF = "Liberation Serif"
RED = "#ff0000"
GRAY = "#858585"
NAVY = "#17208f"
UP_HEAD = "M0,0L0.65,1L-0.65,1Z"
DOWN_HEAD = "M0,0L0.65,-1L-0.65,-1Z"
YLAB = "datum.value % 1 == 0 ? (datum.value < 0 ? '-' + abs(datum.value) : '' + datum.value) : ''"
XLAB = "datum.value == 1.5 ? 'M' : ((datum.value == 1 || datum.value == 2) ? 'K' : 'Γ')"


def fix(E):
    E = list(E)[:16]
    while len(E) < 16:
        E.append(E[-1])
    return E


def band_frame(bands):
    xs = XH + [round(3 - v, 2) for v in XH[-2::-1]]
    rows = []
    for b, (E, w) in enumerate(bands):
        E = fix(E)
        w = (w + G)[:16]
        es = E + E[-2::-1]
        ws = w + w[-2::-1]
        seg, prev = 0, False
        for i, (xv, ev, wv) in enumerate(zip(xs, es, ws)):
            wi = int(wv)
            if wi == 3 and not prev:
                seg += 1
            prev = wi == 3
            rows.append({"band": b, "i": i, "x": xv, "E": ev, "w": wi,
                         "seg": f"{b}-{seg}" if wi == 3 else "none"})
    return pd.DataFrame(rows)


def panel(r, c):
    df = band_frame(PANELS[r][c])
    if c == 0:
        yaxis = alt.Axis(values=Y_TICKS[r], labelExpr=YLAB, title="Energy (eV)", titleFont=SERIF,
                         titleFontSize=31, titleFontWeight="normal", labelFont=SERIF, labelFontSize=16,
                         labelFontWeight="bold", tickSize=5, tickWidth=1.5, labelPadding=4,
                         titlePadding=8, domain=False, grid=False)
    else:
        yaxis = alt.Axis(values=Y_TICKS[r], labels=False, title=None, tickSize=5, tickWidth=1.5,
                         domain=False, grid=False)
    if r == 2:
        xaxis = alt.Axis(values=X_TICKS, labelExpr=XLAB, ticks=False, labelFlush=True, labelOverlap=False,
                         title=None, labelFont=SERIF, labelFontSize=19, labelFontWeight="bold",
                         labelPadding=4, domain=False, grid=False)
    else:
        xaxis = None
    X = alt.X("x:Q", scale=alt.Scale(domain=[0, 3], nice=False, zero=False), axis=xaxis)
    Y = alt.Y("E:Q", scale=alt.Scale(domain=Y_DOMAINS[r], nice=False, zero=False), axis=yaxis)

    layers = []
    layers.append(alt.Chart(df).mark_line(color=GRAY, strokeWidth=1.8, clip=True)
                  .encode(x=X, y=Y, detail="band:N", order="i:Q"))
    layers.append(alt.Chart(df).transform_filter("datum.w == 3")
                  .mark_line(color=RED, strokeWidth=11, clip=True, strokeCap="round", strokeJoin="round")
                  .encode(x=X, y=Y, detail="seg:N", order="i:Q"))
    layers.append(alt.Chart(df).transform_filter("datum.w > 0")
                  .mark_circle(color=RED, opacity=1, clip=True)
                  .encode(x=X, y=Y, size=alt.Size("w:O", scale=alt.Scale(domain=[1, 2, 3], range=[22, 90, 120]),
                                                  legend=None)))
    layers.append(alt.Chart(pd.DataFrame({"x": K_LINES})).mark_rule(color="black", strokeDash=[5, 3], strokeWidth=1.6)
                  .encode(x=X))
    layers.append(alt.Chart(pd.DataFrame({"E": [0.0]})).mark_rule(color="#8a8a8a", strokeDash=[6, 4], strokeWidth=1.7)
                  .encode(y=Y))
    if (r, c) in ARROWS:
        e0, e1 = ARROWS[(r, c)]
        adf = pd.DataFrame({"x": [1.0], "E": [e0], "E2": [e1]})
        layers.append(alt.Chart(adf).mark_rule(color=NAVY, strokeWidth=3.4)
                      .encode(x=X, y=Y, y2=alt.Y2("E2:Q")))
        hdf = pd.DataFrame({"x": [1.0], "E": [e1]})
        layers.append(alt.Chart(hdf).mark_point(shape=UP_HEAD if e1 > e0 else DOWN_HEAD, filled=True, size=460,
                                                color=NAVY, opacity=1, strokeWidth=0)
                      .encode(x=X, y=Y))
    if (r, c) in LABELS:
        sub, xs_, es_, xb, eb = LABELS[(r, c)]
        layers.append(alt.Chart(pd.DataFrame({"x": [xs_], "E": [es_], "t": ["∅"]}))
                      .mark_text(font="DejaVu Serif", fontSize=33, fontWeight="bold", color="black",
                                 align="center", baseline="middle")
                      .encode(x=X, y=Y, text="t:N"))
        layers.append(alt.Chart(pd.DataFrame({"x": [xb], "E": [eb], "t": [sub]}))
                      .mark_text(font=SERIF, fontSize=35, fontWeight="bold", fontStyle="italic", color="black",
                                 align="center", baseline="middle")
                      .encode(x=X, y=Y, text="t:N"))
    if c == 0:
        layers.append(alt.Chart(pd.DataFrame({"x": [-0.83], "E": [ROW_TAG_E[r]], "t": [ROW_TAGS[r]]}))
                      .mark_text(font=SERIF, fontSize=32, color="black", align="left", baseline="middle")
                      .encode(x=X, y=Y, text="t:N"))
    ch = alt.layer(*layers).properties(width=259, height=361)
    if r == 0:
        # first column's top tick label already sits above the frame, so its title needs less offset
        ch = ch.properties(title=alt.TitleParams(STRAINS[c], fontSize=32, font=SERIF, fontWeight="normal",
                                                 offset=6 if c == 0 else 15, anchor="middle", frame="group",
                                                 color="black"))
    return ch


cells = [panel(r, c) for r in range(3) for c in range(6)]
chart = (alt.concat(*cells, columns=6, spacing={"row": 42, "column": 11}, bounds="flush")
         .properties(padding={"top": 5, "left": 0, "right": 0, "bottom": 0})
         .configure_view(stroke="black", strokeWidth=2.2)
         .configure_axis(labelColor="black", tickColor="black", titleColor="black",
                         labelFont=SERIF, titleFont=SERIF))

chart.save("out.html", embed_options={"renderer": "svg", "actions": False})
